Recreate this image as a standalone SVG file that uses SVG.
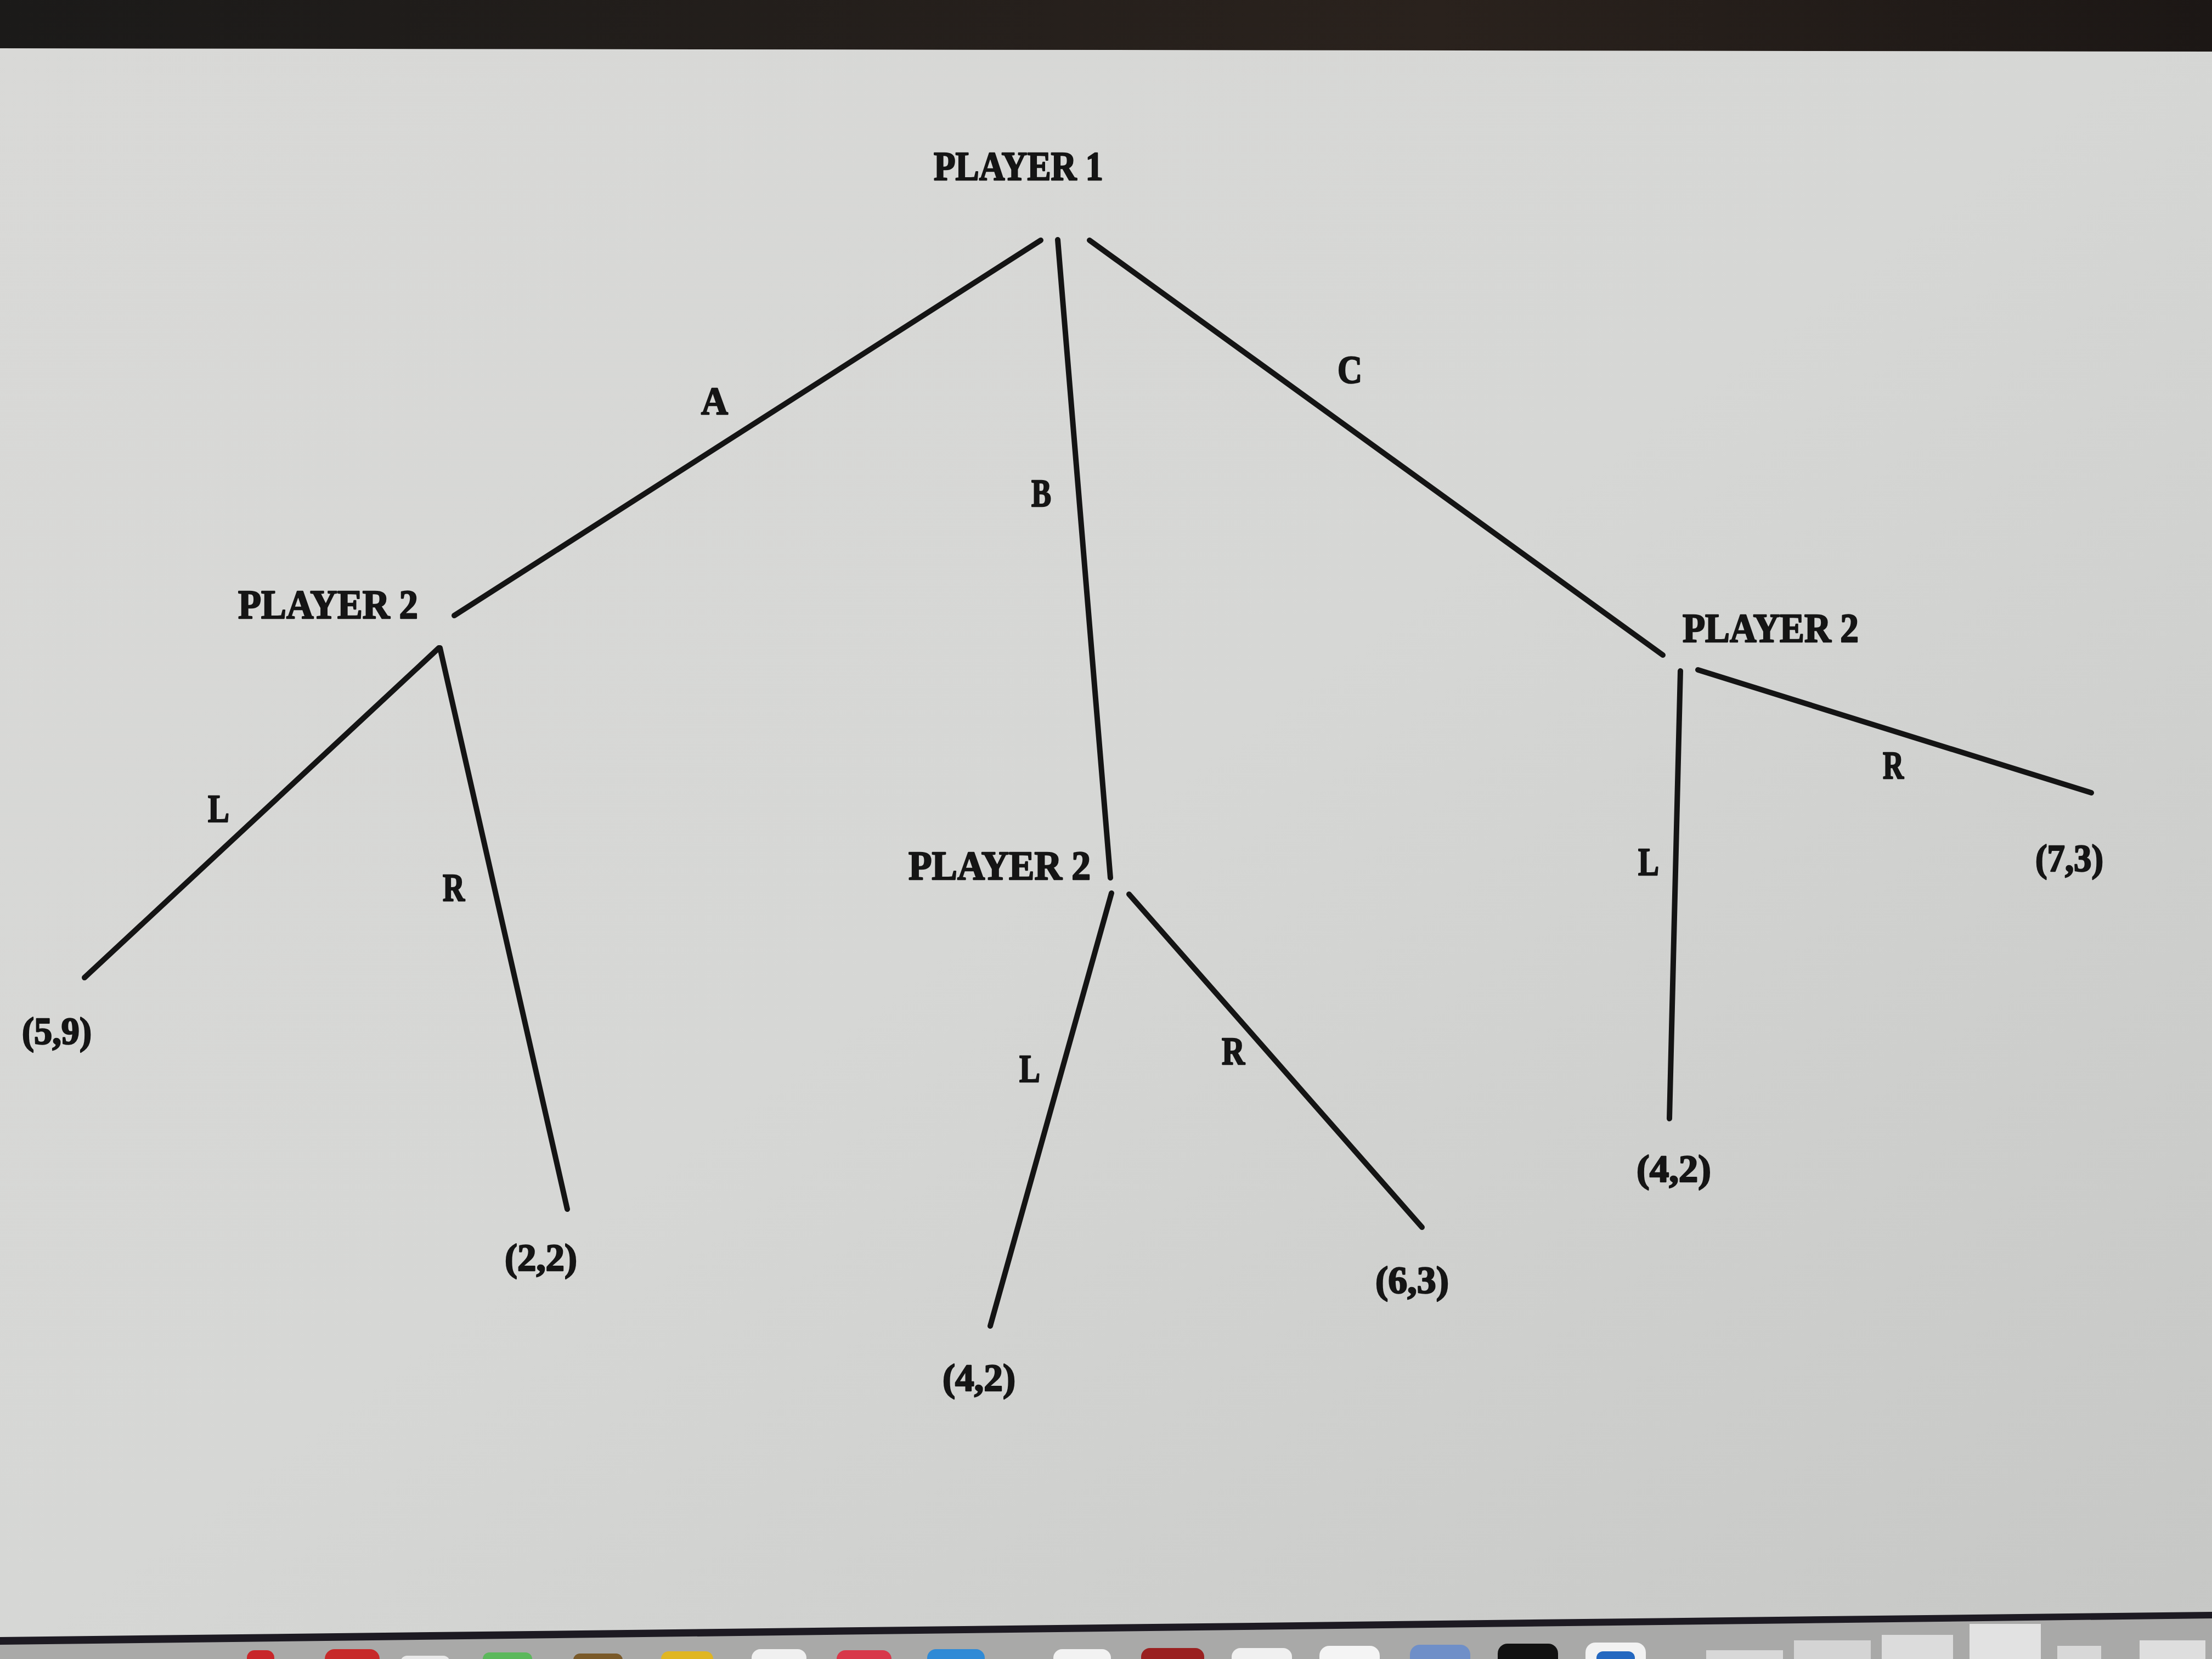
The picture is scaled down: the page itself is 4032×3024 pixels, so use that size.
<svg xmlns="http://www.w3.org/2000/svg" width="4032" height="3024" viewBox="0 0 4032 3024">
  <defs>
    <linearGradient id="bg" x1="0" y1="0" x2="1" y2="1">
      <stop offset="0" stop-color="#d9d9d7"/>
      <stop offset="0.5" stop-color="#d6d7d5"/>
      <stop offset="1" stop-color="#c6c7c5"/>
    </linearGradient>
    <linearGradient id="topbar" x1="0" y1="0" x2="1" y2="0">
      <stop offset="0" stop-color="#1b1a19"/>
      <stop offset="0.65" stop-color="#2a221d"/>
      <stop offset="1" stop-color="#1c1715"/>
    </linearGradient>
    <style>
      .edge { stroke: #141414; stroke-width: 10; stroke-linecap: round; fill: none; }
      .t { font-family: "Liberation Serif", "DejaVu Serif", serif; font-weight: bold; fill: #151515; stroke: #151515; stroke-width: 2.5; stroke-linejoin: round; }
      .player { font-size: 75px; }
      .lab { font-size: 72px; }
      .pay { font-size: 70px; }
    </style>
  </defs>

  <!-- screen background -->
  <rect x="0" y="0" width="4032" height="3024" fill="url(#bg)"/>
  <polygon points="0,0 4032,0 4032,94 0,88" fill="url(#topbar)"/>
  <polygon points="0,2988 4032,2940 4032,3024 0,3024" fill="#a9a9a8"/>
  <polygon points="0,2984 4032,2938 4032,2950 0,2998" fill="#1d1a22"/>
  <g id="dock">
    <rect x="450" y="3008" width="50" height="30" rx="14" fill="#c8262a"/>
    <rect x="592" y="3006" width="100" height="40" rx="18" fill="#c72a2a"/>
    <rect x="730" y="3018" width="90" height="30" rx="12" fill="#e8e8e8"/>
    <rect x="880" y="3012" width="90" height="30" rx="12" fill="#5cb85c"/>
    <rect x="1045" y="3014" width="90" height="30" rx="12" fill="#7a5a2a"/>
    <rect x="1205" y="3010" width="95" height="30" rx="14" fill="#e0b622"/>
    <rect x="1370" y="3006" width="100" height="40" rx="16" fill="#f0f0f0"/>
    <rect x="1525" y="3008" width="100" height="40" rx="16" fill="#d8384a"/>
    <rect x="1690" y="3006" width="105" height="40" rx="16" fill="#2f8ad6"/>
    <rect x="1920" y="3006" width="105" height="40" rx="16" fill="#f2f2f2"/>
    <rect x="2080" y="3004" width="115" height="40" rx="16" fill="#9a2020"/>
    <rect x="2245" y="3004" width="110" height="40" rx="16" fill="#f0f0f0"/>
    <rect x="2405" y="3000" width="110" height="44" rx="18" fill="#f4f4f4"/>
    <rect x="2570" y="2998" width="110" height="46" rx="18" fill="#6f8fc8"/>
    <rect x="2730" y="2996" width="110" height="48" rx="18" fill="#111111"/>
    <rect x="2890" y="2994" width="110" height="50" rx="18" fill="#f2f2f2"/>
    <rect x="2910" y="3010" width="70" height="30" rx="12" fill="#2468c0"/>
    <rect x="3110" y="3008" width="140" height="30" fill="#d8d8d8"/>
    <rect x="3270" y="2990" width="140" height="40" fill="#d4d4d4"/>
    <rect x="3430" y="2980" width="130" height="50" fill="#dcdcdc"/>
    <rect x="3590" y="2960" width="130" height="70" fill="#e2e2e2"/>
    <rect x="3750" y="3000" width="80" height="30" fill="#d8d8d8"/>
    <rect x="3900" y="2990" width="120" height="40" fill="#dedede"/>
  </g>

  <!-- connectors -->
  <g id="connectors">
    <line class="edge" x1="1897" y1="438" x2="828" y2="1122"/>
    <line class="edge" x1="1928" y1="437" x2="2024" y2="1600"/>
    <line class="edge" x1="1986" y1="438" x2="3031" y2="1194"/>
    <line class="edge" x1="800" y1="1181" x2="154" y2="1782"/>
    <line class="edge" x1="802" y1="1181" x2="1034" y2="2204"/>
    <line class="edge" x1="2026" y1="1628" x2="1805" y2="2417"/>
    <line class="edge" x1="2058" y1="1630" x2="2592" y2="2237"/>
    <line class="edge" x1="3063" y1="1223" x2="3043" y2="2039"/>
    <line class="edge" x1="3095" y1="1221" x2="3812" y2="1445"/>
  </g>

  <!-- edge labels -->
  <g id="edge-labels">
    <text class="t lab" x="1278" y="755" textLength="49" lengthAdjust="spacingAndGlyphs">A</text>
    <text class="t lab" x="1880" y="923" textLength="36" lengthAdjust="spacingAndGlyphs">B</text>
    <text class="t lab" x="2438" y="698" textLength="45" lengthAdjust="spacingAndGlyphs">C</text>
    <text class="t lab" x="379" y="1498" textLength="39" lengthAdjust="spacingAndGlyphs">L</text>
    <text class="t lab" x="807" y="1642" textLength="40" lengthAdjust="spacingAndGlyphs">R</text>
    <text class="t lab" x="1858" y="1972" textLength="38" lengthAdjust="spacingAndGlyphs">L</text>
    <text class="t lab" x="2227" y="1940" textLength="42" lengthAdjust="spacingAndGlyphs">R</text>
    <text class="t lab" x="2986" y="1595" textLength="38" lengthAdjust="spacingAndGlyphs">L</text>
    <text class="t lab" x="3432" y="1419" textLength="38" lengthAdjust="spacingAndGlyphs">R</text>
  </g>

  <!-- decision nodes -->
  <g id="player1">
    <text class="t player" x="1702" y="328" textLength="309" lengthAdjust="spacingAndGlyphs">PLAYER 1</text>
  </g>
  <g id="player2-left">
    <text class="t player" x="434" y="1127" textLength="328" lengthAdjust="spacingAndGlyphs">PLAYER 2</text>
  </g>
  <g id="player2-middle">
    <text class="t player" x="1656" y="1603" textLength="332" lengthAdjust="spacingAndGlyphs">PLAYER 2</text>
  </g>
  <g id="player2-right">
    <text class="t player" x="3067" y="1170" textLength="321" lengthAdjust="spacingAndGlyphs">PLAYER 2</text>
  </g>

  <!-- payoff leaves -->
  <g id="payoff-5-9">
    <text class="t pay" x="40" y="1903" textLength="127" lengthAdjust="spacingAndGlyphs">(5,9)</text>
  </g>
  <g id="payoff-2-2">
    <text class="t pay" x="920" y="2316" textLength="132" lengthAdjust="spacingAndGlyphs">(2,2)</text>
  </g>
  <g id="payoff-4-2-middle">
    <text class="t pay" x="1718" y="2535" textLength="133" lengthAdjust="spacingAndGlyphs">(4,2)</text>
  </g>
  <g id="payoff-6-3">
    <text class="t pay" x="2507" y="2357" textLength="134" lengthAdjust="spacingAndGlyphs">(6,3)</text>
  </g>
  <g id="payoff-4-2-right">
    <text class="t pay" x="2983" y="2154" textLength="136" lengthAdjust="spacingAndGlyphs">(4,2)</text>
  </g>
  <g id="payoff-7-3">
    <text class="t pay" x="3710" y="1588" textLength="124" lengthAdjust="spacingAndGlyphs">(7,3)</text>
  </g>
</svg>
